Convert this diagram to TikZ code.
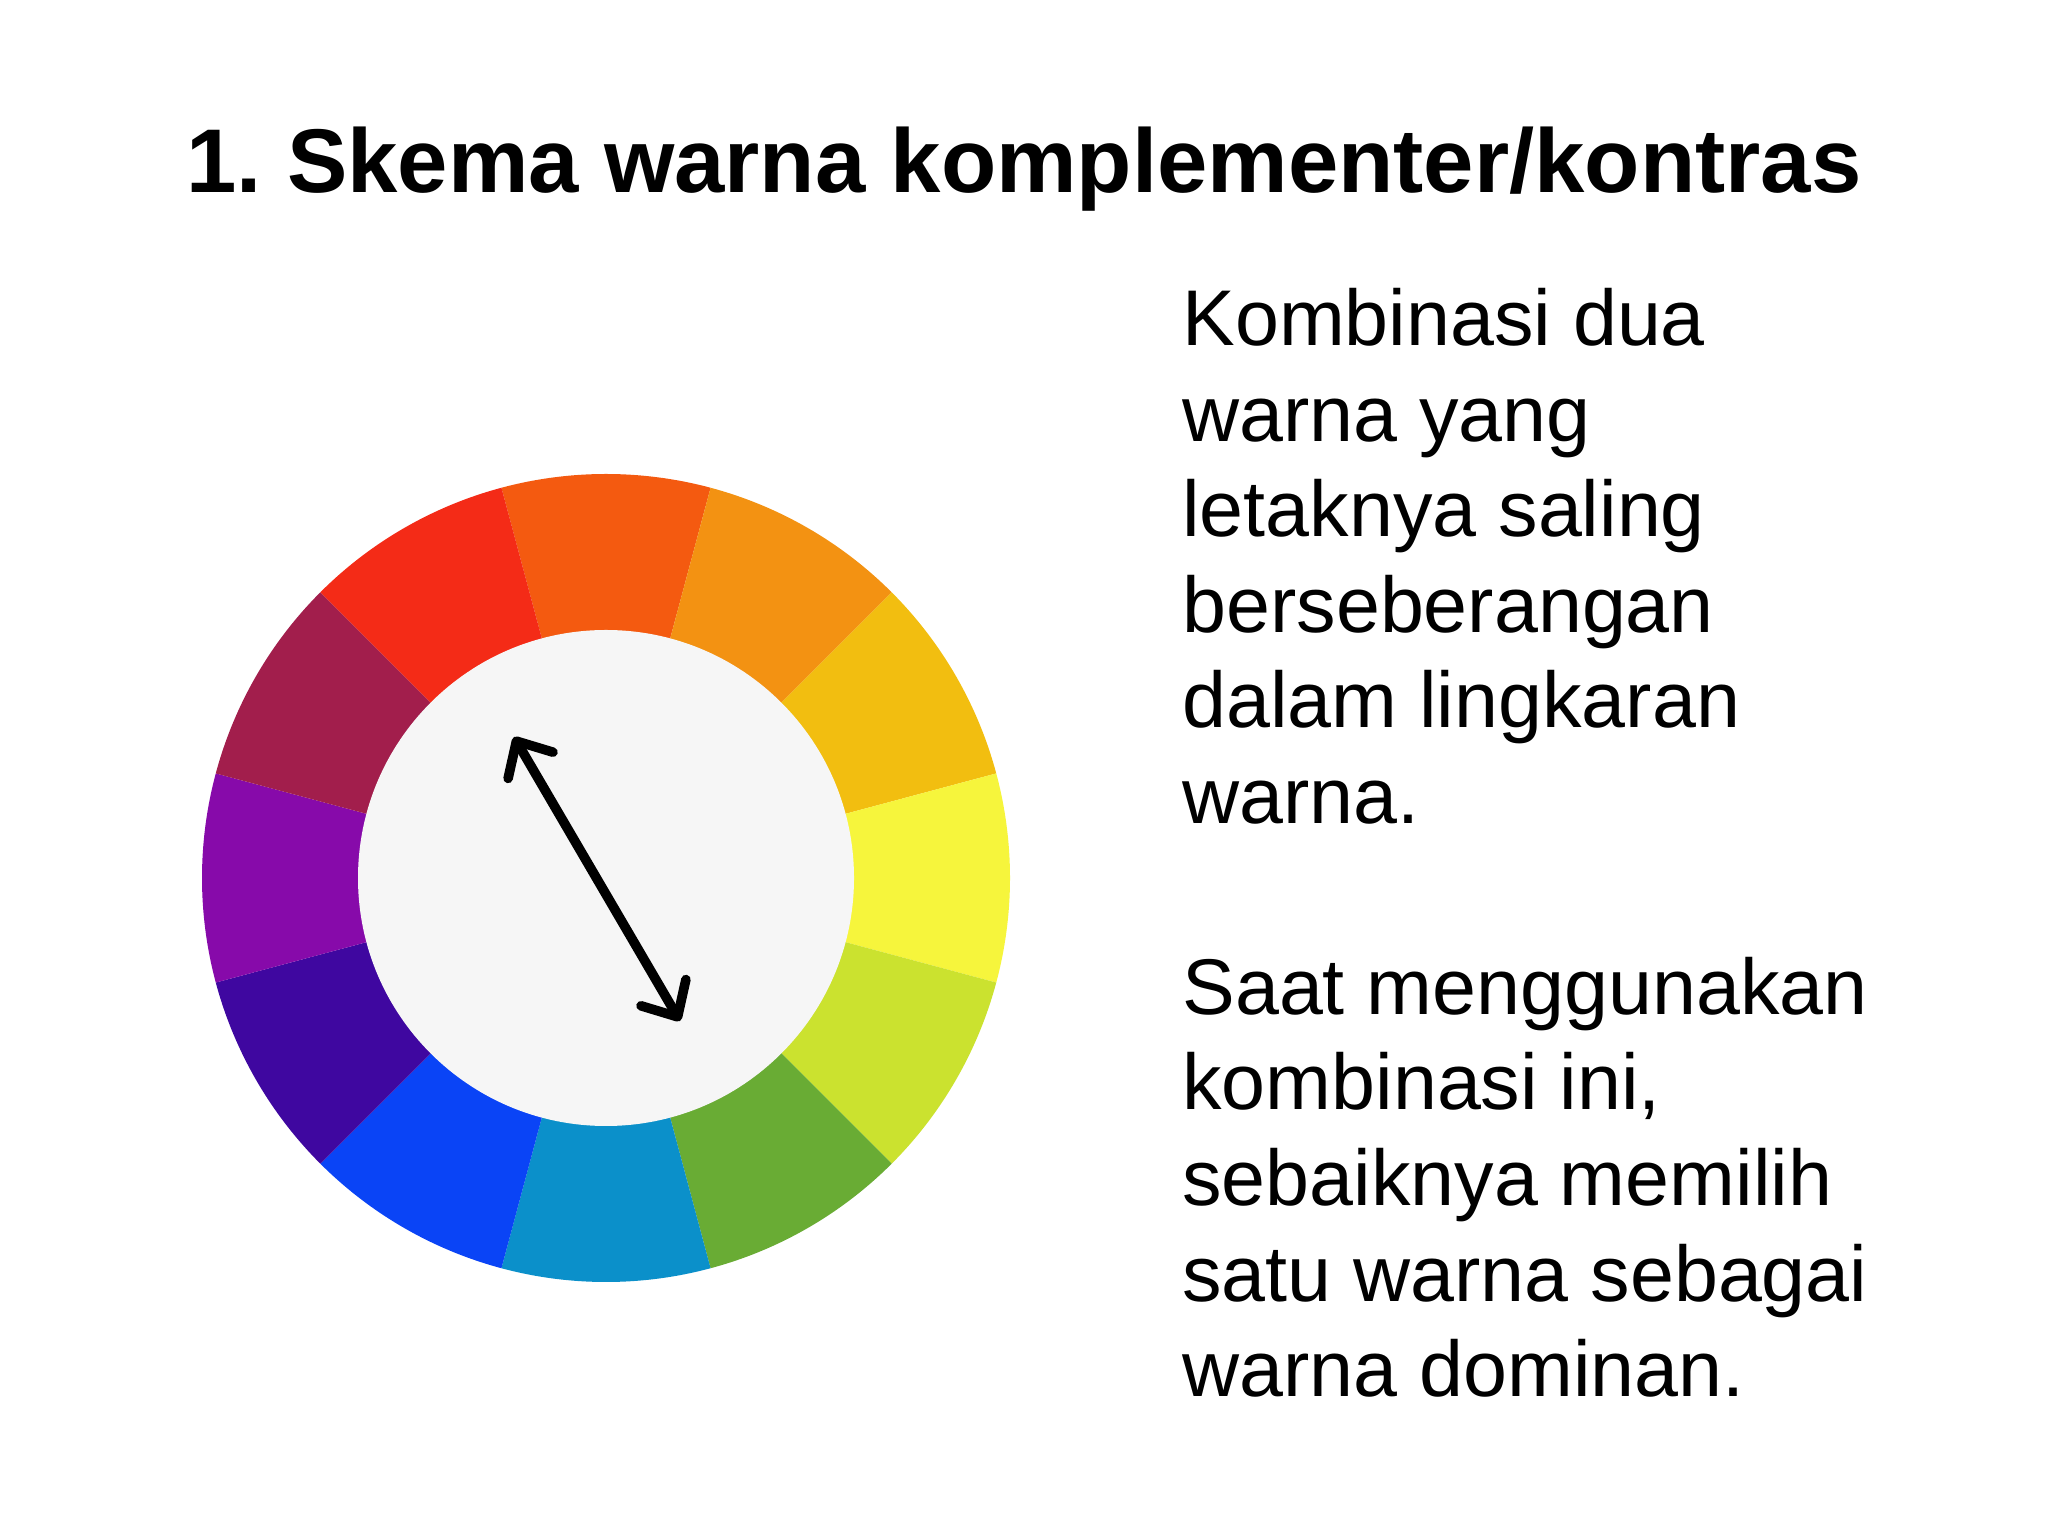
\documentclass[tikz,border=0pt]{standalone}
\usepackage{fontspec}
\setmainfont{Liberation Sans}
\usetikzlibrary{arrows.meta,calc}
\definecolor{cA}{HTML}{F45A10}
\definecolor{cB}{HTML}{F39212}
\definecolor{cC}{HTML}{F2BE10}
\definecolor{cD}{HTML}{F6F53C}
\definecolor{cE}{HTML}{CBE22F}
\definecolor{cF}{HTML}{69AC34}
\definecolor{cG}{HTML}{0B90CA}
\definecolor{cH}{HTML}{0A44F6}
\definecolor{cI}{HTML}{3F07A0}
\definecolor{cJ}{HTML}{870AAA}
\definecolor{cK}{HTML}{A21E4C}
\definecolor{cL}{HTML}{F42B17}
\definecolor{hole}{HTML}{F6F6F6}
\tikzset{
  titletext/.style={anchor=base, inner sep=0pt, font=\fontsize{45.25}{54}\selectfont\bfseries},
  bodytext/.style={anchor=base west, inner sep=0pt, font=\fontsize{39.5}{47.75}\selectfont},
  dblarrow/.style={line width=4.8pt, line cap=round, {Straight Barb[length=14pt,width=26pt,round]}-{Straight Barb[length=14pt,width=26pt,round]}}
}
\frenchspacing
\begin{document}
\frenchspacing
\begin{tikzpicture}[x=0.5pt,y=0.5pt]
\useasboundingbox (0,0) rectangle (2048,1536);
\fill[white] (0,0) rectangle (2048,1536);
\coordinate (c) at (606,658);
\foreach \i/\col in {0/cA,1/cB,2/cC,3/cD,4/cE,5/cF,6/cG,7/cH,8/cI,9/cJ,10/cK,11/cL}{
  \pgfmathsetmacro{\a}{90-30*\i}
  \fill[\col] (c) -- ($(c)+(\a+15:404)$) arc[start angle=\a+15, end angle=\a-15, radius=404] -- cycle;
}
\fill[hole] (c) circle[radius=248];
\coordinate (p1) at (514,799);
\coordinate (p2) at (680,515);
\draw[dblarrow] (p1) -- (p2);
\node[titletext] (title) at (1024,1343) {1. Skema warna komplementer/kontras};
\node[bodytext] (l1) at (1182,1190) {Kombinasi dua};
\node[bodytext] (l2) at (1182,1094.5) {warna yang};
\node[bodytext] (l3) at (1182,999) {letaknya saling};
\node[bodytext] (l4) at (1182,903.5) {berseberangan};
\node[bodytext] (l5) at (1182,808) {dalam lingkaran};
\node[bodytext] (l6) at (1182,712.5) {warna.};
\node[bodytext] (l7) at (1182,521.5) {Saat menggunakan};
\node[bodytext] (l8) at (1182,426) {kombinasi ini,};
\node[bodytext] (l9) at (1182,330.5) {sebaiknya memilih};
\node[bodytext] (l10) at (1182,235) {satu warna sebagai};
\node[bodytext] (l11) at (1182,139.5) {warna dominan.};
\end{tikzpicture}
\end{document}
